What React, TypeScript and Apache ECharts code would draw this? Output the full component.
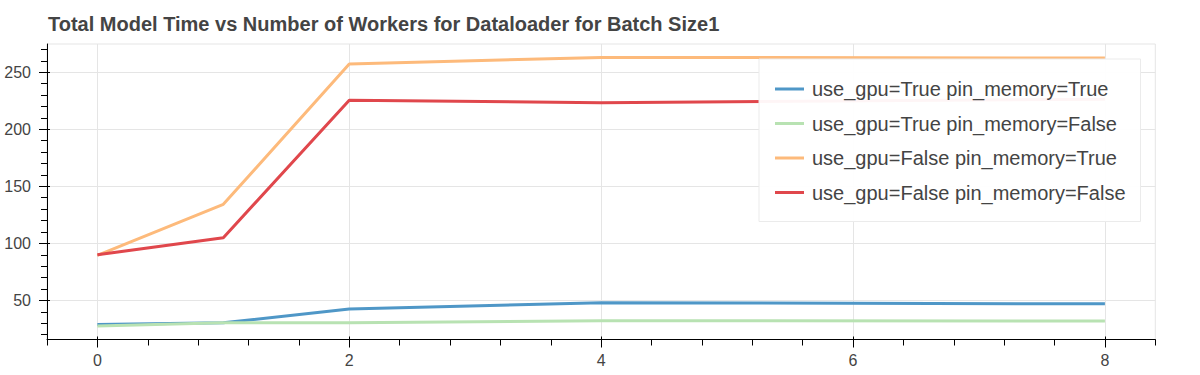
import React, { useEffect, useRef } from "react";
import * as echarts from "echarts";

const TITLE = "Total Model Time vs Number of Workers for Dataloader for Batch Size1";
const workers = [0, 1, 2, 4, 8];
const seriesNames = [
  "use_gpu=True pin_memory=True",
  "use_gpu=True pin_memory=False",
  "use_gpu=False pin_memory=True",
  "use_gpu=False pin_memory=False",
];
const gpuPinTrue = [29, 30.4, 42.5, 48, 47];
const gpuPinFalse = [27.5, 30.4, 30.5, 32.2, 32];
const cpuPinTrue = [89.5, 134.2, 257.3, 263, 262.5];
const cpuPinFalse = [90, 105, 225.4, 223.3, 226.4];
const seriesColors = ["#4f97c7", "#b8e2b2", "#fdba7b", "#e0474c"];

const xMajor = [0, 2, 4, 6, 8];
const yMajor = [50, 100, 150, 200, 250];
const X_MIN = -0.4;
const X_MAX = 8.4;
const Y_MIN = 15.75;
const Y_MAX = 274.75;

const xMinor: number[] = [];
for (let i = -1; i <= 21; i++) {
  const v = Math.round(i * 4) / 10;
  if (v >= X_MIN && v <= X_MAX && !xMajor.includes(v)) xMinor.push(v);
}
const yMinor: number[] = [];
for (let v = 20; v <= 270; v += 10) {
  if (!yMajor.includes(v)) yMinor.push(v);
}

const FONT = "'Liberation Sans', Arial, Helvetica, sans-serif";

export default function App() {
  const ref = useRef<HTMLDivElement>(null);
  useEffect(() => {
    if (!ref.current) return;
    const chart = echarts.init(ref.current, null, { renderer: "svg" });
    const dataSets = [gpuPinTrue, gpuPinFalse, cpuPinTrue, cpuPinFalse];
    const axisLine = { show: true, onZero: false, lineStyle: { color: "#000", width: 1 } };
    const noLine = { show: false, onZero: false };
    const tickStyle = { color: "#000", width: 1 };
    const mkX = (extra: any) => ({
      type: "value",
      min: X_MIN,
      max: X_MAX,
      position: "bottom",
      gridIndex: 0,
      ...extra,
    });
    const mkY = (extra: any) => ({
      type: "value",
      min: Y_MIN,
      max: Y_MAX,
      position: "left",
      gridIndex: 0,
      ...extra,
    });
    chart.setOption({
      animation: false,
      backgroundColor: "#fff",
      title: {
        text: TITLE,
        left: 48,
        top: 14,
        padding: 0,
        textStyle: { fontFamily: FONT, fontSize: 20, fontWeight: "bold", color: "#444" },
      },
      grid: {
        left: 47,
        right: 44.7,
        top: 44,
        bottom: 35.5,
        containLabel: false,
        outerBoundsMode: "none",
        show: true,
        borderColor: "#e5e5e5",
        borderWidth: 1,
        backgroundColor: "transparent",
      },
      legend: {
        orient: "vertical",
        left: 759,
        top: 59,
        z: 50,
        zlevel: 0,
        padding: [20, 15, 19, 16],
        itemGap: 14.5,
        itemWidth: 29,
        itemHeight: 3,
        icon: "rect",
        selectedMode: false,
        backgroundColor: "rgba(255,255,255,0.95)",
        borderColor: "#ebebeb",
        borderWidth: 1,
        data: seriesNames,
        textStyle: {
          fontFamily: FONT,
          fontSize: 20,
          lineHeight: 20,
          color: "#444",
          padding: [0, 0, 0, 3],
        },
      },
      xAxis: [
        mkX({
          axisLine,
          axisTick: { show: true, length: 8, customValues: xMajor, lineStyle: tickStyle },
          axisLabel: {
            show: true,
            customValues: xMajor,
            color: "#444",
            fontSize: 16,
            fontFamily: FONT,
            margin: 13,
          },
          splitLine: { show: true, lineStyle: { color: "#e5e5e5", width: 1 } },
        }),
        mkX({
          axisLine: noLine,
          axisTick: { show: true, length: 6, customValues: xMinor, lineStyle: tickStyle },
          axisLabel: { show: false },
          splitLine: { show: false },
        }),
        mkX({
          axisLine: noLine,
          axisTick: { show: true, inside: true, length: 3, customValues: xMajor, lineStyle: tickStyle },
          axisLabel: { show: false },
          splitLine: { show: false },
        }),
      ],
      yAxis: [
        mkY({
          axisLine,
          axisTick: { show: true, length: 8, customValues: yMajor, lineStyle: tickStyle },
          axisLabel: {
            show: true,
            customValues: yMajor,
            color: "#444",
            fontSize: 16,
            fontFamily: FONT,
            margin: 16,
          },
          splitLine: { show: true, lineStyle: { color: "#e5e5e5", width: 1 } },
        }),
        mkY({
          axisLine: noLine,
          axisTick: { show: true, length: 6, customValues: yMinor, lineStyle: tickStyle },
          axisLabel: { show: false },
          splitLine: { show: false },
        }),
        mkY({
          axisLine: noLine,
          axisTick: { show: true, inside: true, length: 3, customValues: yMajor, lineStyle: tickStyle },
          axisLabel: { show: false },
          splitLine: { show: false },
        }),
      ],
      series: seriesNames.map((name, i) => ({
        name,
        type: "line",
        xAxisIndex: 0,
        yAxisIndex: 0,
        showSymbol: false,
        symbol: "none",
        color: seriesColors[i],
        lineStyle: { width: 3, color: seriesColors[i] },
        data: workers.map((w, j) => [w, dataSets[i][j]]),
        z: 2 + i,
      })),
    });
    return () => chart.dispose();
  }, []);
  return (
    <div
      ref={ref}
      style={{ position: "absolute", left: 0, top: 0, width: 1200, height: 375 }}
    />
  );
}
